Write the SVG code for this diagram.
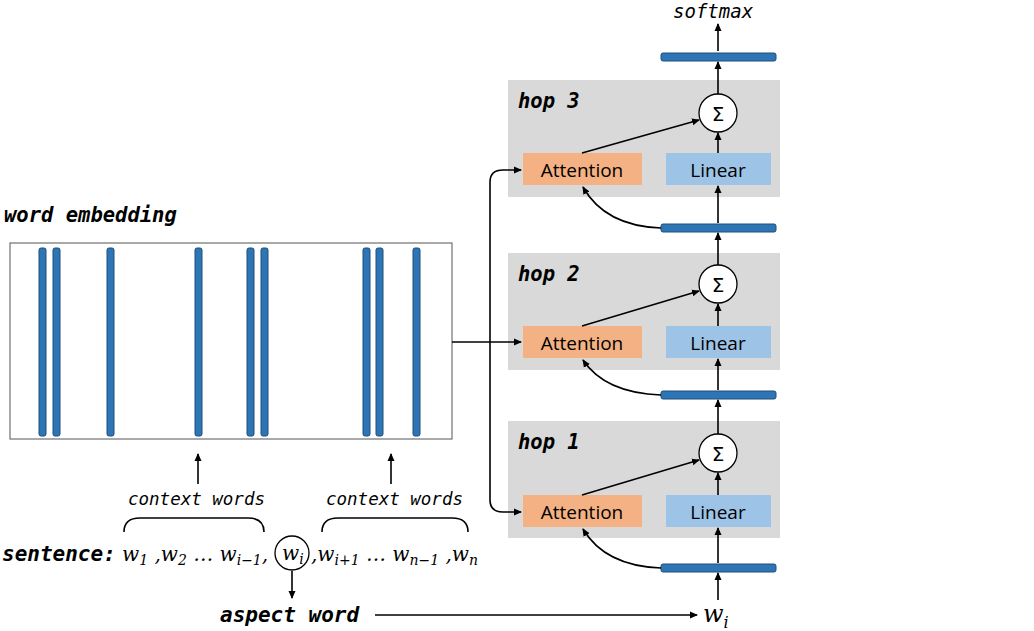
<svg xmlns="http://www.w3.org/2000/svg" width="1034" height="631" viewBox="0 0 1034 631">
<defs>
<marker id="ah" markerWidth="8" markerHeight="8" refX="7" refY="4" orient="auto" markerUnits="userSpaceOnUse"><path d="M0,0.5 L8,4 L0,7.5 z" fill="#000"/></marker>
<style>
.hop{fill:#d9d9d9}
.att{fill:#f4b183}
.lin{fill:#9dc3e6}
.bar{fill:#2e75b6;stroke:#1f4e79;stroke-width:1}
.c{fill:none;stroke:#000;stroke-width:1.6}
.mono{font-family:"DejaVu Sans Mono",monospace;font-style:italic;font-size:17.5px}
.monob{font-family:"DejaVu Sans Mono",monospace;font-style:italic;font-weight:bold;font-size:20.5px}
.lbl{font-family:"Open Sans","DejaVu Sans",sans-serif;font-size:19px;text-anchor:middle}
.m{font-family:"DejaVu Serif",serif;font-style:italic;font-size:20px}
.s{font-size:14px;font-style:italic}
</style>
</defs>
<rect width="1034" height="631" fill="#fff"/>
<g id="embedding">
<text x="4" y="222" class="monob">word embedding</text>
<rect x="10" y="243" width="442" height="196" fill="#fff" stroke="#555" stroke-width="1"/>
<rect class="bar" x="39" y="248" width="7" height="188" rx="2"/>
<rect class="bar" x="53" y="248" width="7" height="188" rx="2"/>
<rect class="bar" x="107" y="248" width="7" height="188" rx="2"/>
<rect class="bar" x="195" y="248" width="7" height="188" rx="2"/>
<rect class="bar" x="247" y="248" width="7" height="188" rx="2"/>
<rect class="bar" x="261" y="248" width="7" height="188" rx="2"/>
<rect class="bar" x="363" y="248" width="7" height="188" rx="2"/>
<rect class="bar" x="376" y="248" width="7" height="188" rx="2"/>
<rect class="bar" x="413" y="248" width="7" height="188" rx="2"/>
</g>
<g id="sentence">
<text x="128" y="505" class="mono">context words</text>
<text x="326" y="505" class="mono">context words</text>
<path class="c" d="M124,532 Q124,518 140,518 L248,518 Q264,518 264,532" stroke-width="1.2"/>
<path class="c" d="M322,532 Q322,518 338,518 L452,518 Q468,518 468,532" stroke-width="1.2"/>
<text x="2" y="561" class="monob" style="font-size:21px">sentence:</text>
<text x="122" y="561" class="m">w<tspan class="s" dy="4">1</tspan><tspan dy="-4"> ,w</tspan><tspan class="s" dy="4">2</tspan><tspan dy="-4"> … w</tspan><tspan class="s" dy="4">i−1</tspan><tspan dy="-4">,</tspan></text>
<circle cx="292" cy="553" r="17" fill="none" stroke="#000" stroke-width="1.3"/>
<text x="282" y="560" class="m">w<tspan class="s" dy="4">i</tspan></text>
<text x="311" y="561" class="m">,w<tspan class="s" dy="4">i+1</tspan><tspan dy="-4"> … w</tspan><tspan class="s" dy="4">n−1</tspan><tspan dy="-4"> ,w</tspan><tspan class="s" dy="4">n</tspan></text>
<text x="220" y="622" class="monob" style="font-size:21px">aspect word</text>
<text x="703" y="622" class="m" style="font-size:24px">w<tspan class="s" style="font-size:16px" dy="6">i</tspan></text>
<text x="673" y="18" class="mono" style="font-size:19px">softmax</text>
</g>
<g id="hop3">
<rect class="hop" x="508" y="80" width="272" height="117"/>
<text x="518" y="108" class="monob">hop 3</text>
<rect class="att" x="523" y="153" width="119" height="32"/>
<text x="582" y="177" class="lbl">Attention</text>
<rect class="lin" x="666" y="153" width="105" height="32"/>
<text x="718" y="177" class="lbl">Linear</text>
<circle cx="718" cy="113" r="19" fill="#fff" stroke="#000" stroke-width="1.3"/>
<text x="718" y="121" class="lbl" style="font-family:'DejaVu Sans',sans-serif;font-size:20px">Σ</text>
</g>
<g id="hop2">
<rect class="hop" x="508" y="253" width="272" height="117"/>
<text x="518" y="281" class="monob">hop 2</text>
<rect class="att" x="523" y="326" width="119" height="32"/>
<text x="582" y="350" class="lbl">Attention</text>
<rect class="lin" x="666" y="326" width="105" height="32"/>
<text x="718" y="350" class="lbl">Linear</text>
<circle cx="718" cy="284" r="19" fill="#fff" stroke="#000" stroke-width="1.3"/>
<text x="718" y="292" class="lbl" style="font-family:'DejaVu Sans',sans-serif;font-size:20px">Σ</text>
</g>
<g id="hop1">
<rect class="hop" x="508" y="421" width="272" height="117"/>
<text x="518" y="449" class="monob">hop 1</text>
<rect class="att" x="523" y="495" width="119" height="32"/>
<text x="582" y="519" class="lbl">Attention</text>
<rect class="lin" x="666" y="495" width="105" height="32"/>
<text x="718" y="519" class="lbl">Linear</text>
<circle cx="718" cy="453" r="19" fill="#fff" stroke="#000" stroke-width="1.3"/>
<text x="718" y="461" class="lbl" style="font-family:'DejaVu Sans',sans-serif;font-size:20px">Σ</text>
</g>
<g id="bars">
<rect class="bar" x="661" y="53" width="115" height="8" rx="2"/>
<rect class="bar" x="661" y="224" width="115" height="8" rx="2"/>
<rect class="bar" x="661" y="391" width="115" height="8" rx="2"/>
<rect class="bar" x="661" y="564" width="115" height="8" rx="2"/>
</g>
<g id="connectors">
<path class="c" d="M198,484 L198,454" marker-end="url(#ah)"/>
<path class="c" d="M391,484 L391,454" marker-end="url(#ah)"/>
<path class="c" d="M292,571 L292,598" marker-end="url(#ah)"/>
<path class="c" d="M375,615 L697,615" marker-end="url(#ah)"/>
<path class="c" d="M718,600 L718,573" marker-end="url(#ah)"/>
<path class="c" d="M452,342 L521,342" marker-end="url(#ah)"/>
<path class="c" d="M490,342 L490,182 Q490,170 503,170 L521,170" marker-end="url(#ah)"/>
<path class="c" d="M490,342 L490,500 Q490,512 503,512 L521,512" marker-end="url(#ah)"/>
<path class="c" d="M718,51 L718,24" marker-end="url(#ah)"/>
<path class="c" d="M718,94 L718,62" marker-end="url(#ah)"/>
<path class="c" d="M718,153 L718,133" marker-end="url(#ah)"/>
<path class="c" d="M718,223 L718,186" marker-end="url(#ah)"/>
<path class="c" d="M582,153 L699,120" marker-end="url(#ah)"/>
<path class="c" d="M661,228 Q605,226 583,187" marker-end="url(#ah)"/>
<path class="c" d="M718,265 L718,233" marker-end="url(#ah)"/>
<path class="c" d="M718,326 L718,304" marker-end="url(#ah)"/>
<path class="c" d="M718,390 L718,359" marker-end="url(#ah)"/>
<path class="c" d="M582,326 L699,291" marker-end="url(#ah)"/>
<path class="c" d="M661,395 Q605,393 583,360" marker-end="url(#ah)"/>
<path class="c" d="M718,434 L718,400" marker-end="url(#ah)"/>
<path class="c" d="M718,495 L718,473" marker-end="url(#ah)"/>
<path class="c" d="M718,563 L718,528" marker-end="url(#ah)"/>
<path class="c" d="M582,495 L699,460" marker-end="url(#ah)"/>
<path class="c" d="M661,568 Q605,566 583,529" marker-end="url(#ah)"/>
</g>
</svg>
